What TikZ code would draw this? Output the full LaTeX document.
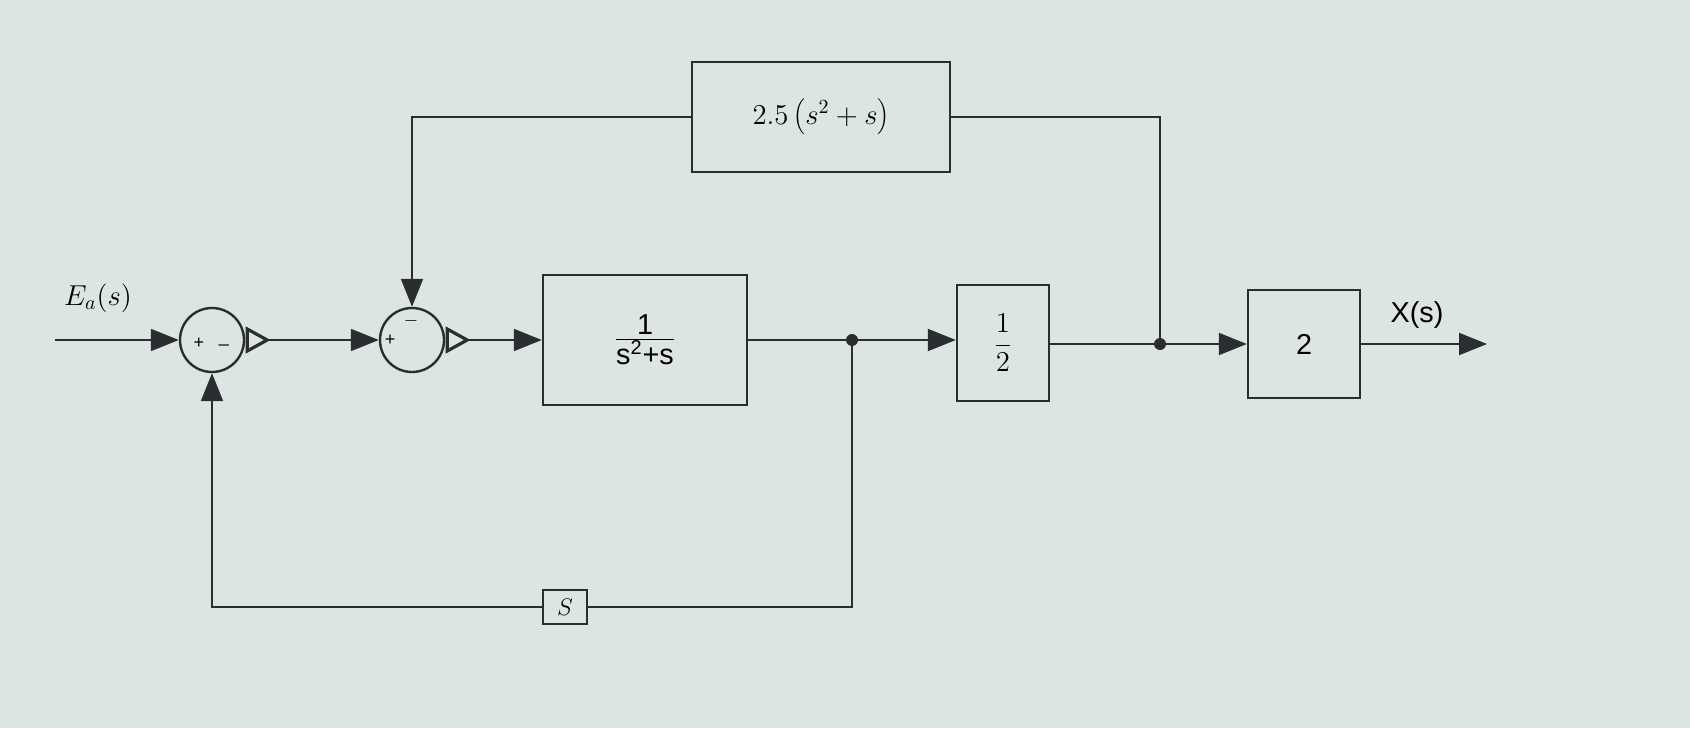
\documentclass[tikz,border=0pt]{standalone}
\usepackage{fontspec}
\newfontfamily\sansf{Liberation Sans}
\usetikzlibrary{arrows.meta}
\definecolor{bg}{HTML}{DCE5E1}
\definecolor{ln}{HTML}{2A2E30}
\begin{document}
\begin{tikzpicture}[x=0.5pt,y=-0.5pt,
  blk/.style={draw=ln,line width=1.2pt,inner sep=0pt},
  wire/.style={draw=ln,line width=1pt},
  arr/.style={wire,-{Triangle[length=14pt,width=11pt]}},
  sumc/.style={circle,draw=ln,line width=1.2pt,minimum size=32pt,inner sep=0pt},
  dotc/.style={circle,fill=ln,inner sep=0pt,minimum size=6pt},
  mk/.style={draw=ln,line width=1.6pt,line join=miter}]
\useasboundingbox[fill=bg] (0,0) rectangle (1690,728);
\node[blk,minimum width=102pt,minimum height=65pt] (g1) at (645,340) {\sansf\Large$\frac{\mbox{\sansf 1}}{\mbox{\sansf s\textsuperscript{2}+s}}$};
\node[blk,minimum width=46pt,minimum height=58pt] (g2) at (1003,343) {\Large$\displaystyle\frac{1}{2}$};
\node[blk,minimum width=56pt,minimum height=54pt] (g3) at (1304,344) {\sansf\Large 2};
\node[blk,minimum width=129pt,minimum height=55pt] (h) at (821,117) {\Large$2.5\left(s^2+s\right)$};
\node[blk,minimum width=22pt,minimum height=17pt] (fb) at (565,607) {\large$S$};
\node[sumc] (s1) at (212,340) {};
\node[sumc] (s2) at (412,340) {};
\node at (199,343) {\sansf\small +};
\node at (224,344) {\sansf\small \_};
\node at (390,340) {\sansf\small +};
\node at (411,321) {\sansf\small $-$};
\node (ea) at (98,298) {\Large$E_a(s)$};
\node (xs) at (1417,315) {\sansf\Large X(s)};
\draw[mk] (s1.east) ++(2,11) -- ++(20,-11) -- ++(-20,-11) -- cycle;
\draw[mk] (s2.east) ++(2,11) -- ++(20,-11) -- ++(-20,-11) -- cycle;
\coordinate (in) at (55,340);
\coordinate (out) at (1487,344);
\coordinate (d1) at (852,340);
\coordinate (d2) at (1160,344);
\node[dotc] at (d1) {};
\node[dotc] at (d2) {};
\draw[arr] (in) -- (s1.west);
\draw[arr] ([xshift=11pt]s1.east) -- (s2.west);
\draw[arr] ([xshift=11pt]s2.east) -- (g1.west);
\draw[wire] (g1.east) -- (d1);
\draw[arr] (d1) -- (g2.west|-d1);
\draw[wire] (g2.east|-d2) -- (d2);
\draw[arr] (d2) -- (g3.west|-d2);
\draw[arr] (g3.east|-out) -- (out);
\draw[wire] (d2) |- (h.east);
\draw[arr] (h.west) -| (s2.north);
\draw[wire] (d1) |- (fb.east);
\draw[arr] (fb.west) -| (s1.south);
\end{tikzpicture}
\end{document}
